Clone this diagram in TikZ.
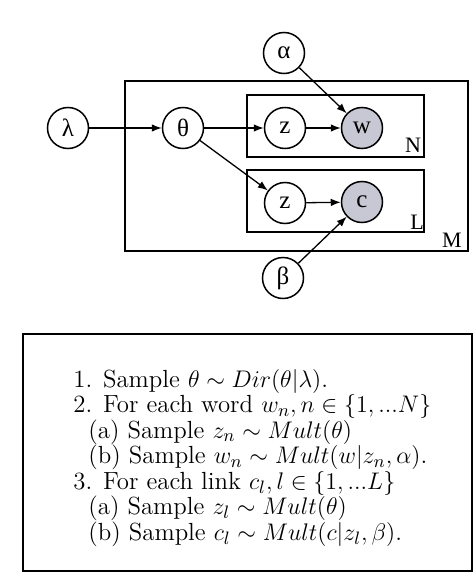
\documentclass[tikz,border=0pt]{standalone}
\usepackage{fontspec}
\newfontfamily\tnr{Liberation Serif}
\usetikzlibrary{arrows.meta}
\definecolor{obsfill}{RGB}{200,200,212}
\begin{document}
\begin{tikzpicture}[x=0.5pt,y=-0.5pt,
  var/.style={circle,draw,line width=0.75pt,minimum size=20.5pt,inner sep=0pt,font=\tnr\fontsize{12.5}{14}\selectfont},
  obs/.style={var,fill=obsfill},
  plate/.style={draw,line width=1pt},
  lab/.style={font=\tnr\fontsize{11}{13}\selectfont,inner sep=0pt},
  edge/.style={-{Latex[length=5pt,width=3.8pt]},line width=0.65pt},
  txt/.style={anchor=base west,inner sep=0pt,align=left,font=\fontsize{12.4}{12.75}\selectfont}
]
\useasboundingbox (0,0) rectangle (474,573);
% plates
\draw[plate] (125,81) rectangle (468,251);
\draw[plate] (247,95) rectangle (424,157);
\draw[plate] (247,170) rectangle (424,232);
\node[lab] (lN) at (413,145) {N};
\node[lab] (lL) at (417,222) {L};
\node[lab] (lM) at (452,240) {M};
% nodes
\node[var] (alpha) at (284,53) {α};
\node[var] (lambda) at (68,128) {λ};
\node[var] (theta) at (183,128) {θ};
\node[var] (z1) at (285,128) {z};
\node[obs] (w) at (362,128) {w};
\node[var] (z2) at (285,203) {z};
\node[obs] (c) at (362,202) {c};
\node[var] (beta) at (283,278) {β};
% edges
\draw[edge] (lambda) -- (theta);
\draw[edge] (theta) -- (z1);
\draw[edge] (z1) -- (w);
\draw[edge] (alpha) -- (w);
\draw[edge] (theta) -- (z2);
\draw[edge] (z2) -- (c);
\draw[edge] (beta) -- (c);
% text box
\draw[line width=1pt] (23,334) rectangle (471.5,571);
\node[txt] (steps) at (73,540) {1. Sample $\theta\sim Dir(\theta|\lambda)$.\\
2. For each word $w_n, n\in\{1,...N\}$\\
\hspace*{7.5pt}(a) Sample $z_n\sim Mult(\theta)$\\
\hspace*{7.5pt}(b) Sample $w_n\sim Mult(w|z_n,\alpha)$.\\
3. For each link $c_l, l\in\{1,...L\}$\\
\hspace*{7.5pt}(a) Sample $z_l\sim Mult(\theta)$\\
\hspace*{7.5pt}(b) Sample $c_l\sim Mult(c|z_l,\beta)$.};
\end{tikzpicture}
\end{document}
